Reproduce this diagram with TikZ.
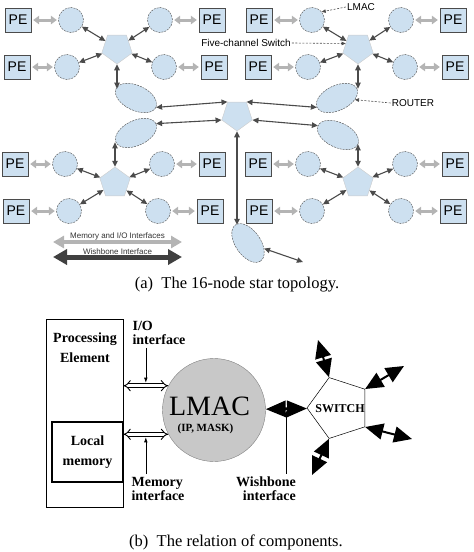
\documentclass[tikz,border=0pt]{standalone}
\usepackage{fontspec}
\setmainfont{Liberation Serif}
\setsansfont{Liberation Sans}
\usetikzlibrary{arrows.meta,shapes.geometric}
\definecolor{cellblue}{RGB}{205,224,240}
\definecolor{linkgray}{RGB}{75,75,75}
\definecolor{pegray}{RGB}{180,180,180}
\definecolor{lmacgray}{RGB}{200,200,200}

\begin{document}
\begin{tikzpicture}[x=1pt,y=-1pt,
  peunit/.style={draw=linkgray,fill=cellblue,minimum width=26pt,minimum height=24pt,inner sep=0pt,
    font=\sffamily\fontsize{14}{14}\selectfont},
  mac/.style={circle,draw=linkgray,dash pattern=on 2pt off 1pt,fill=cellblue,minimum size=25pt,inner sep=0pt},
  router/.style={ellipse,draw=linkgray,dash pattern=on 2pt off 1pt,fill=cellblue,
    minimum width=44pt,minimum height=25pt,inner sep=0pt},
  five/.style={regular polygon,regular polygon sides=5,draw=gray!40,fill=cellblue,minimum size=32pt,inner sep=0pt},
  link/.style={linkgray,line width=1.1pt,arrows={Triangle[length=6pt,width=5.5pt]-Triangle[length=6pt,width=5.5pt]}},
  pelink/.style={pegray,line width=3pt,arrows={Triangle[length=6pt,width=8.5pt]-Triangle[length=6pt,width=8.5pt]},
    shorten <=2pt,shorten >=1.5pt},
  note/.style={linkgray,line width=.6pt,dash pattern=on 2pt off 1.5pt,arrows={-Triangle[length=4pt,width=3.5pt]}},
  tag/.style={font=\sffamily\fontsize{10}{10}\selectfont,inner sep=1pt},
  legtext/.style={font=\sffamily\fontsize{8}{8}\selectfont,inner sep=.5pt,text=black!80},
  memleg/.style={pegray,line width=4pt,arrows={Triangle[length=11pt,width=12pt]-Triangle[length=11pt,width=12pt]}},
  wbleg/.style={black!75,line width=5pt,arrows={Triangle[length=14pt,width=15pt]-Triangle[length=14pt,width=15pt]}},
  captext/.style={font=\fontsize{16.5}{16.5}\selectfont},
  lbl/.style={font=\bfseries\fontsize{14}{14}\selectfont,inner sep=0pt},
  hollow/.style={line width=.9pt,double=white,double distance=3pt,arrows={Implies[scale=2.2]-Implies[scale=2.2]}},
  ptr/.style={line width=.6pt,arrows={-Latex[length=5pt,width=3.5pt]}},
  spike/.style={line width=2pt,arrows={Triangle[length=18pt,width=16pt]-Triangle[length=18pt,width=16pt]}},
  wbarrow/.style={line width=3pt,arrows={Triangle[length=20pt,width=16pt]-Triangle[length=20pt,width=16pt]}}
]
  \useasboundingbox (0,0) rectangle (474,552);

  % (a) star topology
  \foreach \n/\cx/\cy/\s/\r in {1/117/48/1/180, 2/358/48/1/180, 3/115/183/-1/0, 4/358/183/-1/0} {
    \begin{scope}[shift={(\cx,\cy)},yscale=\s]
      \node[five,shape border rotate=\r] (sw\n) at (0,0) {};
      \node[mac] (c\n1) at (-46,-28) {};
      \node[mac] (c\n2) at (43,-28) {};
      \node[mac] (c\n3) at (-50,19) {};
      \node[mac] (c\n4) at (47,19) {};
      \node[peunit] (p\n1) at (-99,-28) {PE};
      \node[peunit] (p\n2) at (95,-28) {PE};
      \node[peunit] (p\n3) at (-100,19) {PE};
      \node[peunit] (p\n4) at (97,19) {PE};
    \end{scope}
    \foreach \i in {1,...,4} {
      \draw[pelink] (p\n\i) -- (c\n\i);
      \draw[link] (c\n\i) -- (sw\n);
    }
  }

  \node[five,shape border rotate=180] (sw0) at (237,115) {};
  \node[router,rotate=-25] (rtl) at (136,98) {};
  \node[router,rotate=25] (rbl) at (136,133) {};
  \node[router,rotate=25] (rtr) at (337,98) {};
  \node[router,rotate=-25] (rbr) at (338,135) {};
  \node[router,rotate=-55] (rbot) at (248,243) {};
  \coordinate (rout) at (303,262);

  \draw[link] (sw1.270) -- (sw1.270 |- rtl.west);
  \draw[link] (sw2.270) -- (sw2.270 |- rtr.east);
  \draw[link] (sw3.90) -- (sw3.90 |- rbl.west);
  \draw[link] (sw4.90) -- (sw4.90 |- rbr.east);
  \draw[link] (rtl.east) -- (sw0.126);
  \draw[link] (rbl.east) -- (sw0.198);
  \draw[link] (rtr.west) -- (sw0.54);
  \draw[link] (rbr.west) -- (sw0.342);
  \draw[link] (sw0.270) -- (sw0.270 |- rbot.west);
  \draw[link] (rbot) -- (rout);

  \node[tag] (tlm) at (361,7) {LMAC};
  \node[tag] (tfc) at (246,43) {Five-channel Switch};
  \node[tag] (trt) at (413,103) {ROUTER};
  \draw[note] (tlm.west) -- (c21.40);
  \draw[note] (tfc.east) -- (sw2.160);
  \draw[note] (trt.west) -- (rtr);

  \coordinate (m1) at (53,242);
  \coordinate (m2) at (182,242);
  \coordinate (w1) at (53,257);
  \coordinate (w2) at (182,257);
  \draw[memleg] (m1) -- node[legtext,above,yshift=-1pt] (tmio) {Memory and I/O Interfaces} (m2);
  \draw[wbleg] (w1) -- node[legtext,above,yshift=-1pt] (twi) {Wishbone Interface} (w2);

  \node[captext] (capa) at (237,285) {(a)~~The 16-node star topology.};

  % (b) components
  \node[draw,line width=.6pt,minimum width=77pt,minimum height=188pt,inner sep=0pt] (procel) at (84.5,413) {};
  \node[lbl,align=center,font=\bfseries\fontsize{14}{20}\selectfont] (tpe) at (85,348) {Processing\\Element};
  \node[draw,line width=1.3pt,minimum width=71pt,minimum height=60pt,inner sep=0pt,align=center,
    font=\bfseries\fontsize{14}{20}\selectfont] (lmem) at (87.5,452) {Local\\memory};

  \node[circle,draw=gray,fill=lmacgray,minimum size=103pt,inner sep=0pt] (lmac) at (214,410) {};
  \node[font=\fontsize{28}{28}\selectfont,inner sep=0pt] (tlmac) at (209.5,406) {LMAC};
  \node[font=\bfseries\fontsize{11}{11}\selectfont,inner sep=0pt] (tmask) at (205.5,429) {(IP, MASK)};

  \node[regular polygon,regular polygon sides=5,shape border rotate=90,draw,line width=.5pt,minimum size=64pt,
    inner sep=0pt] (swb) at (339,408) {};
  \node[font=\bfseries\fontsize{12}{12}\selectfont,inner sep=0pt] (tsw) at (340,409) {SWITCH};

  \draw[hollow] (procel.east |- lmac.152) -- coordinate (iomid) (lmac.152);
  \draw[hollow] (procel.east |- lmac.208) -- coordinate (memmid) (lmac.208);
  \draw[wbarrow] (lmac) -- coordinate (wbmid) (swb);

  \node[lbl,align=left] (tio) at (159,333) {I/O\\interface};
  \node[lbl,align=left] (tmi) at (158,489) {Memory\\interface};
  \node[lbl,align=right] (twb) at (266,489) {Wishbone\\interface};
  \draw[ptr,shorten <=3pt,shorten >=3pt] (tio.south -| iomid) -- (iomid);
  \draw[ptr,shorten <=3pt,shorten >=3pt] (tmi.north -| memmid) -- (memmid);
  \draw[ptr,shorten <=3pt,shorten >=1.5pt] (twb.north -| wbmid) -- (wbmid);

  \coordinate (sk1) at (318,340);
  \coordinate (sk2) at (404,366);
  \coordinate (sk3) at (412,439);
  \coordinate (sk4) at (312,475);
  \draw[spike] (swb.108) -- (sk1);
  \draw[spike] (swb.36) -- (sk2);
  \draw[spike] (swb.-36) -- (sk3);
  \draw[spike] (swb.252) -- (sk4);

  \node[captext] (capb) at (236,542) {(b)~~The relation of components.};
\end{tikzpicture}
\end{document}
